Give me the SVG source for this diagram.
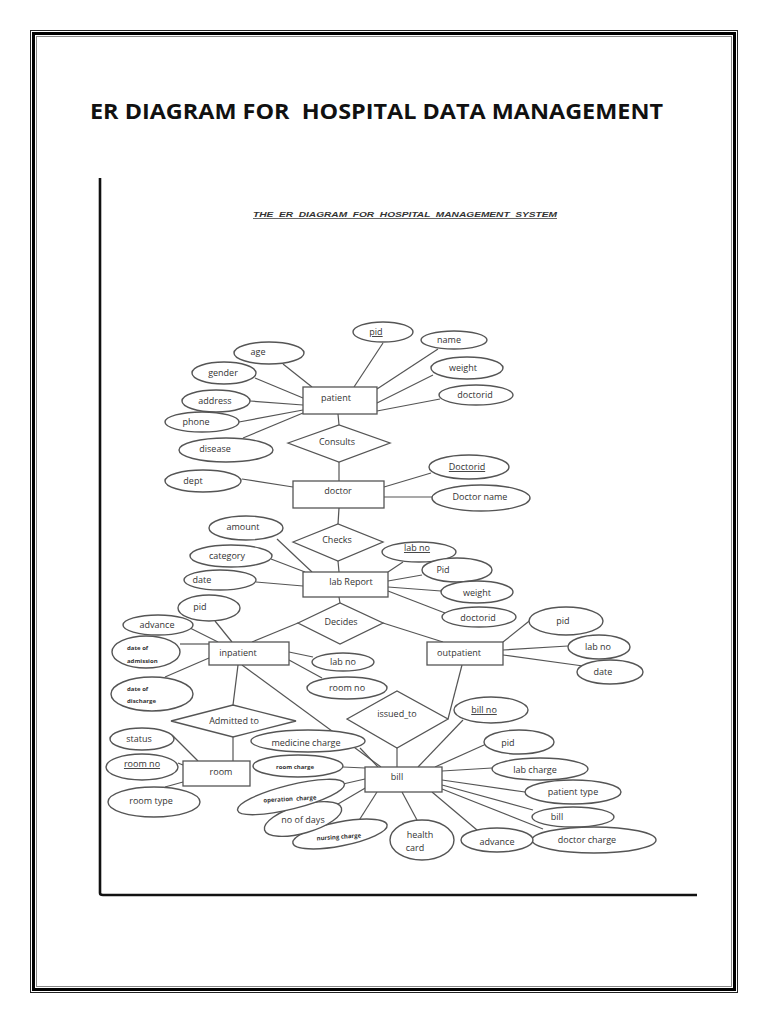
<svg xmlns="http://www.w3.org/2000/svg" width="768" height="1024" viewBox="0 0 768 1024">
<style>
.e{fill:#fff;stroke:#555;stroke-width:1.4}
.r{fill:#fff;stroke:#555;stroke-width:1.3}
.d{fill:#fff;stroke:#555;stroke-width:1.3}
.l{stroke:#555;stroke-width:1.2;fill:none}
.t{font-family:"Open Sans","Liberation Sans",sans-serif;font-size:9px;fill:#333;text-anchor:middle}
.b{font-family:"Open Sans","Liberation Sans",sans-serif;font-size:6px;font-weight:bold;fill:#333}
.u{text-decoration:underline}
.pre{white-space:pre}
</style>
<rect width="768" height="1024" fill="#fff"/>
<g id="frame" fill="none">
<rect x="30.5" y="30.5" width="707" height="962" stroke="#222" stroke-width="1"/>
<rect x="33.5" y="33.5" width="701" height="956" stroke="#000" stroke-width="3"/>
<rect x="36.5" y="36.5" width="695" height="950" stroke="#888" stroke-width="1"/>
<path d="M100 178 V893 Q100 895 103 895 H697" stroke="#111" stroke-width="2.6"/>
</g>
<text class="pre" x="90" y="119" font-family="Open Sans,Liberation Sans,sans-serif" font-size="22" font-weight="bold" fill="#111" textLength="573" lengthAdjust="spacingAndGlyphs">ER DIAGRAM FOR  HOSPITAL DATA MANAGEMENT</text>
<text class="pre" x="253" y="217" font-family="Liberation Sans,sans-serif" font-size="7.5" font-weight="bold" font-style="italic" fill="#333" text-decoration="underline" textLength="304" lengthAdjust="spacingAndGlyphs">THE  ER  DIAGRAM  FOR  HOSPITAL  MANAGEMENT  SYSTEM</text>
<g id="connectors" class="l">
<line x1="383" y1="343" x2="354" y2="387"/>
<line x1="438" y1="349" x2="377" y2="389"/>
<line x1="433" y1="375" x2="377" y2="403"/>
<line x1="440" y1="399" x2="377" y2="411"/>
<line x1="283" y1="364" x2="312" y2="387"/>
<line x1="255" y1="378" x2="303" y2="398"/>
<line x1="250" y1="401" x2="303" y2="405"/>
<line x1="239" y1="422" x2="303" y2="410"/>
<line x1="243" y1="438" x2="303" y2="413"/>
<line x1="338" y1="414" x2="339" y2="425"/>
<line x1="339" y1="462" x2="339" y2="481"/>
<line x1="242" y1="479" x2="293" y2="487"/>
<line x1="431" y1="473" x2="384" y2="487"/>
<line x1="432" y1="497" x2="384" y2="497"/>
<line x1="339" y1="508" x2="338" y2="524"/>
<line x1="338" y1="561" x2="339" y2="572"/>
<line x1="277" y1="539" x2="312" y2="572"/>
<line x1="271" y1="559" x2="305" y2="572"/>
<line x1="256" y1="582" x2="303" y2="586"/>
<line x1="403" y1="562" x2="388" y2="572"/>
<line x1="422" y1="575" x2="388" y2="581"/>
<line x1="441" y1="591" x2="388" y2="587"/>
<line x1="445" y1="613" x2="388" y2="591"/>
<line x1="339" y1="597" x2="340" y2="603"/>
<line x1="298" y1="623" x2="252" y2="642"/>
<line x1="383" y1="623" x2="443" y2="642"/>
<line x1="215" y1="621" x2="232" y2="642"/>
<line x1="190" y1="628" x2="218" y2="642"/>
<line x1="180" y1="644" x2="209" y2="644"/>
<line x1="165" y1="677" x2="209" y2="658"/>
<line x1="289" y1="652" x2="313" y2="657"/>
<line x1="289" y1="660" x2="322" y2="678"/>
<line x1="238" y1="665" x2="233" y2="705"/>
<line x1="242" y1="665" x2="381" y2="767"/>
<line x1="503" y1="642" x2="538" y2="614"/>
<line x1="503" y1="650" x2="568" y2="646"/>
<line x1="503" y1="655" x2="583" y2="666"/>
<line x1="462" y1="665" x2="448" y2="719"/>
<line x1="233" y1="737" x2="233" y2="761"/>
<line x1="172" y1="735" x2="198" y2="761"/>
<line x1="178" y1="763" x2="183" y2="765"/>
<line x1="165" y1="787" x2="183" y2="782"/>
<line x1="397" y1="748" x2="397" y2="767"/>
<line x1="463" y1="720" x2="418" y2="767"/>
<line x1="484" y1="745" x2="435" y2="767"/>
<line x1="492" y1="768" x2="442" y2="771"/>
<line x1="525" y1="792" x2="442" y2="780"/>
<line x1="533" y1="810" x2="442" y2="785"/>
<line x1="543" y1="829" x2="442" y2="789"/>
<line x1="477" y1="830" x2="432" y2="792"/>
<line x1="417" y1="820" x2="402" y2="792"/>
<line x1="377" y1="792" x2="358" y2="822"/>
<line x1="367" y1="787" x2="338" y2="804"/>
<line x1="365" y1="779" x2="343" y2="784"/>
<line x1="343" y1="767" x2="365" y2="768"/>
<line x1="360" y1="748" x2="378" y2="767"/>
</g>
<g id="patient"><rect class="r" x="303" y="387" width="74" height="27"/><text class="t" x="336" y="401">patient</text></g>
<g id="patient-pid"><ellipse class="e" cx="383" cy="332" rx="30" ry="10"/><text class="t u" x="376" y="335">pid</text></g>
<g id="patient-name"><ellipse class="e" cx="454" cy="340" rx="33" ry="9"/><text class="t" x="449" y="343">name</text></g>
<g id="patient-weight"><ellipse class="e" cx="467" cy="368" rx="36" ry="11"/><text class="t" x="463" y="371">weight</text></g>
<g id="patient-doctorid"><ellipse class="e" cx="476" cy="395" rx="37" ry="10"/><text class="t" x="475" y="398">doctorid</text></g>
<g id="patient-age"><ellipse class="e" cx="269" cy="353" rx="35" ry="11"/><text class="t" x="258" y="355">age</text></g>
<g id="patient-gender"><ellipse class="e" cx="224" cy="373" rx="32" ry="11"/><text class="t" x="223" y="376">gender</text></g>
<g id="patient-address"><ellipse class="e" cx="216" cy="401" rx="34" ry="11"/><text class="t" x="215" y="404">address</text></g>
<g id="patient-phone"><ellipse class="e" cx="202" cy="422" rx="37" ry="10"/><text class="t" x="196" y="425">phone</text></g>
<g id="patient-disease"><ellipse class="e" cx="226" cy="450" rx="47" ry="12"/><text class="t" x="215" y="452">disease</text></g>
<g id="consults"><polygon class="d" points="288,443 339,425 390,443 339,462"/><text class="t" x="337" y="445">Consults</text></g>
<g id="doctor"><rect class="r" x="293" y="481" width="91" height="27"/><text class="t" x="338" y="494">doctor</text></g>
<g id="doctor-dept"><ellipse class="e" cx="203" cy="481" rx="38" ry="11"/><text class="t" x="193" y="484">dept</text></g>
<g id="doctor-id"><ellipse class="e" cx="469" cy="467" rx="40" ry="12"/><text class="t u" x="467" y="470">Doctorid</text></g>
<g id="doctor-name"><ellipse class="e" cx="481" cy="498" rx="49" ry="13"/><text class="t" x="480" y="500">Doctor name</text></g>
<g id="checks"><polygon class="d" points="293,542 338,524 383,542 338,561"/><text class="t" x="337" y="543">Checks</text></g>
<g id="labreport"><rect class="r" x="303" y="572" width="85" height="25"/><text class="t" x="351" y="585">lab Report</text></g>
<g id="lab-amount"><ellipse class="e" cx="246" cy="528" rx="37" ry="12"/><text class="t" x="243" y="530">amount</text></g>
<g id="lab-category"><ellipse class="e" cx="231" cy="556" rx="41" ry="11"/><text class="t" x="227" y="559">category</text></g>
<g id="lab-date"><ellipse class="e" cx="220" cy="580" rx="36" ry="10"/><text class="t" x="202" y="583">date</text></g>
<g id="lab-labno"><ellipse class="e" cx="419" cy="552" rx="37" ry="10"/><text class="t u" x="417" y="551">lab no</text></g>
<g id="lab-pid"><ellipse class="e" cx="457" cy="570" rx="35" ry="12"/><text class="t" x="443" y="573">Pid</text></g>
<g id="lab-weight"><ellipse class="e" cx="477" cy="592" rx="36" ry="11"/><text class="t" x="477" y="596">weight</text></g>
<g id="lab-doctorid"><ellipse class="e" cx="479" cy="617" rx="37" ry="10"/><text class="t" x="478" y="621">doctorid</text></g>
<g id="decides"><polygon class="d" points="298,623 340,603 383,623 340,644"/><text class="t" x="341" y="625">Decides</text></g>
<g id="inpatient"><rect class="r" x="209" y="642" width="80" height="23"/><text class="t" x="238" y="656">inpatient</text></g>
<g id="in-pid"><ellipse class="e" cx="209" cy="608" rx="31" ry="13"/><text class="t" x="200" y="610">pid</text></g>
<g id="in-advance"><ellipse class="e" cx="158" cy="625" rx="35" ry="10"/><text class="t" x="157" y="628">advance</text></g>
<g id="in-admission"><ellipse class="e" cx="146" cy="652" rx="34" ry="16"/><text class="b" x="127" y="650">date of</text><text class="b" x="127" y="663">admission</text></g>
<g id="in-discharge"><ellipse class="e" cx="152" cy="694" rx="41" ry="17"/><text class="b" x="127" y="691">date of</text><text class="b" x="127" y="703">discharge</text></g>
<g id="in-labno"><ellipse class="e" cx="343" cy="662" rx="31" ry="9"/><text class="t" x="343" y="665">lab no</text></g>
<g id="in-roomno"><ellipse class="e" cx="347" cy="688" rx="40" ry="11"/><text class="t" x="347" y="691">room no</text></g>
<g id="outpatient"><rect class="r" x="427" y="642" width="76" height="23"/><text class="t" x="459" y="656">outpatient</text></g>
<g id="out-pid"><ellipse class="e" cx="566" cy="621" rx="37" ry="14"/><text class="t" x="563" y="624">pid</text></g>
<g id="out-labno"><ellipse class="e" cx="599" cy="647" rx="31" ry="12"/><text class="t" x="598" y="650">lab no</text></g>
<g id="out-date"><ellipse class="e" cx="610" cy="672" rx="33" ry="12"/><text class="t" x="603" y="675">date</text></g>
<g id="admitted"><polygon class="d" points="171,721 233,705 296,721 233,737"/><text class="t" x="234" y="724">Admitted to</text></g>
<g id="room"><rect class="r" x="183" y="761" width="67" height="25"/><text class="t" x="221" y="775">room</text></g>
<g id="room-status"><ellipse class="e" cx="142" cy="739" rx="32" ry="11"/><text class="t" x="139" y="742">status</text></g>
<g id="room-no"><ellipse class="e" cx="142" cy="767" rx="36" ry="13"/><text class="t u" x="142" y="767">room no</text></g>
<g id="room-type"><ellipse class="e" cx="154" cy="802" rx="46" ry="15"/><text class="t" x="151" y="804">room type</text></g>
<g id="issued"><polygon class="d" points="347,719 397,691 448,719 397,748"/><text class="t" x="397" y="717">issued_to</text></g>
<g id="bill"><rect class="r" x="365" y="767" width="77" height="25"/><text class="t" x="397" y="780">bill</text></g>
<g id="bill-no"><ellipse class="e" cx="491" cy="710" rx="37" ry="13"/><text class="t u" x="484" y="713">bill no</text></g>
<g id="bill-pid"><ellipse class="e" cx="519" cy="742" rx="35" ry="12"/><text class="t" x="508" y="746">pid</text></g>
<g id="bill-labcharge"><ellipse class="e" cx="540" cy="769" rx="48" ry="11"/><text class="t" x="535" y="773">lab charge</text></g>
<g id="bill-ptype"><ellipse class="e" cx="573" cy="792" rx="48" ry="12"/><text class="t" x="573" y="795">patient type</text></g>
<g id="bill-bill"><ellipse class="e" cx="573" cy="817" rx="41" ry="10"/><text class="t" x="557" y="820">bill</text></g>
<g id="bill-doctorcharge"><ellipse class="e" cx="594" cy="840" rx="62" ry="13"/><text class="t" x="587" y="843">doctor charge</text></g>
<g id="bill-advance"><ellipse class="e" cx="497" cy="840" rx="36" ry="12"/><text class="t" x="497" y="845">advance</text></g>
<g id="bill-healthcard"><ellipse class="e" cx="422" cy="840" rx="32" ry="20"/><text class="t" x="420" y="838">health</text><text class="t" x="415" y="851">card</text></g>
<g id="bill-nursing"><ellipse class="e" cx="340" cy="834" rx="48" ry="12" transform="rotate(-11 340 834)"/><text class="b" x="339" y="839" text-anchor="middle" transform="rotate(-4 339 839)">nursing charge</text></g>
<g id="bill-days"><ellipse class="e" cx="303" cy="819" rx="40" ry="14" transform="rotate(-16 303 819)"/><text class="t" x="303" y="823" font-size="10">no of days</text></g>
<g id="bill-operation"><ellipse class="e" cx="291" cy="797" rx="55" ry="12" transform="rotate(-14 291 797)"/><text class="b pre" x="290" y="801" text-anchor="middle" transform="rotate(-3 290 801)">operation  charge</text></g>
<g id="bill-roomcharge"><ellipse class="e" cx="298" cy="766" rx="45" ry="11"/><text class="b" x="295" y="769" text-anchor="middle">room charge</text></g>
<g id="bill-medicine"><ellipse class="e" cx="308" cy="741" rx="57" ry="11"/><text class="t" x="306" y="746">medicine charge</text></g>
</svg>
